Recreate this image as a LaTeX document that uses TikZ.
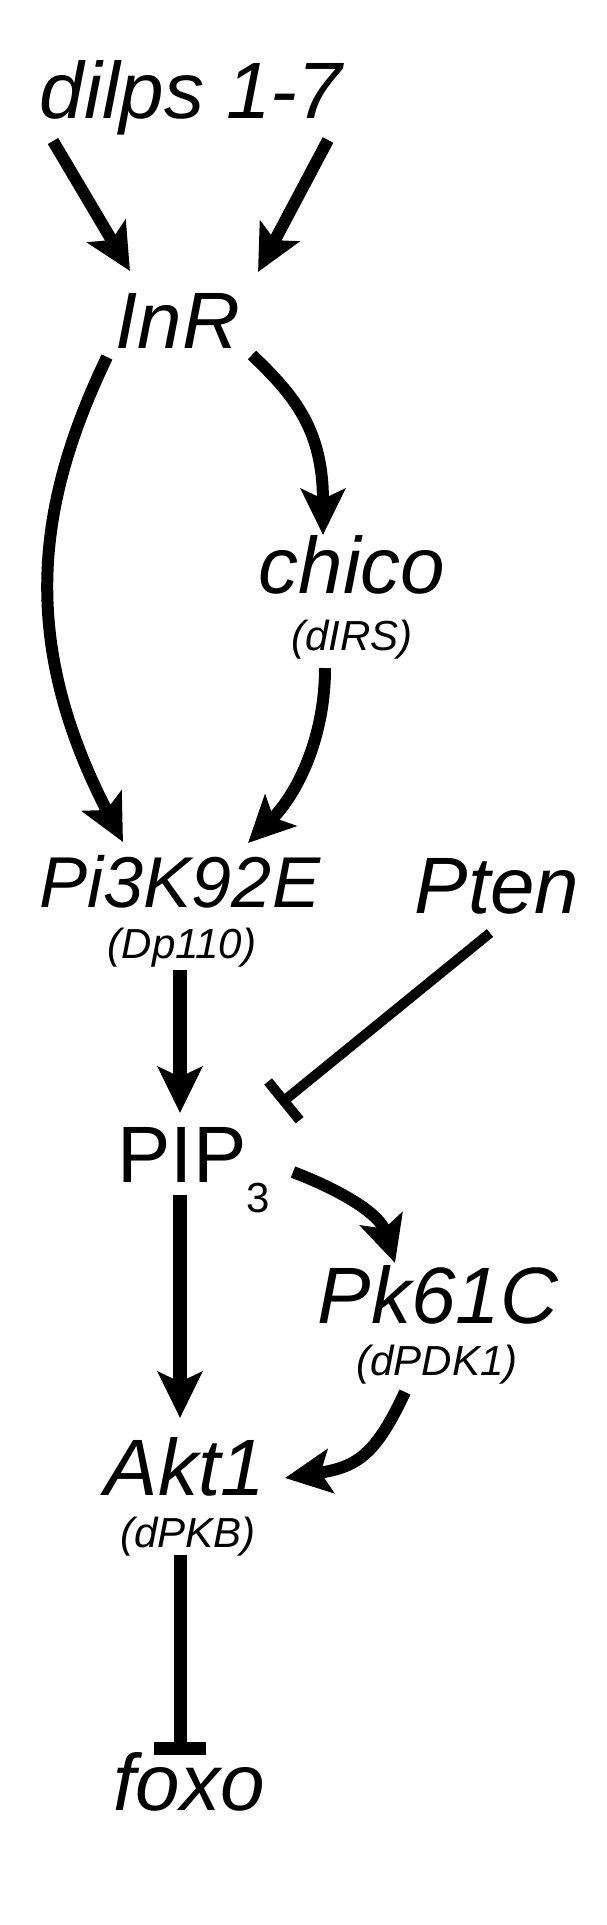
\documentclass[tikz,border=0pt]{standalone}
\usepackage{fontspec}
\setmainfont{Liberation Sans}
\usetikzlibrary{arrows.meta,calc}
\begin{document}
\begin{tikzpicture}[x=1pt,y=-1pt,
  lbl/.style={inner sep=0pt, anchor=base, font=\fontsize{80}{96}\selectfont\itshape},
  sub/.style={inner sep=0pt, anchor=base, font=\fontsize{42}{50}\selectfont\itshape},
  act/.style={line width=12pt, -{Stealth[length=46pt,width=44pt,inset=10pt]}},
  actv/.style={act, line width=14pt},
  inh/.style={line width=10pt, -{Bar[width=50pt]}},
]
\useasboundingbox (0,0) rectangle (607,1925);
% nodes
\node[lbl] (dilps) at (191,118) {dilps 1-7};
\node[lbl] (InR) at (178,348) {InR};
\node[lbl] (chico) at (352,593) {chico};
\node[sub] (dIRS) at (352,650) {(dIRS)};
\node[lbl, font=\fontsize{72}{86}\selectfont\itshape] (Pi3K) at (180,907) {Pi3K92E};
\node[sub] (Dp110) at (182,958) {(Dp110)};
\node[lbl] (Pten) at (497,913) {Pten};
\node[lbl, font=\fontsize{80}{96}\selectfont] (PIP) at (182,1182) {PIP\rlap{\raisebox{-30pt}{\fontsize{42}{50}\selectfont 3}}};
\node[lbl] (Pk61C) at (438,1323) {Pk61C};
\node[sub] (dPDK1) at (437,1375) {(dPDK1)};
\node[lbl] (Akt1) at (185,1495) {Akt1};
\node[sub] (dPKB) at (188,1547) {(dPKB)};
\node[lbl] (foxo) at (189,1810) {foxo};
% connectors
\draw[act] ([shift={(-138,23)}]dilps.base) -- ([shift={(-48,-77)}]InR.base);
\draw[act] ([shift={(137,22)}]dilps.base) -- ([shift={(80,-76)}]InR.base);
\draw[act] ([shift={(-71,9)}]InR.base) .. controls (38,501) and (17,637) .. ([shift={(-57,-65)}]Pi3K.base);
\draw[act] ([shift={(74,7)}]InR.base) .. controls (295,396) and (323,430) .. ([shift={(-29,-58)}]chico.base);
\draw[act] ([shift={(-27,75)}]chico.base) .. controls (325,738) and (297,794) .. ([shift={(68,-64)}]Pi3K.base);
\draw[actv] ([shift={(0,63)}]Pi3K.base) -- ([shift={(-2,-69)}]PIP.base);
\draw[inh] ([shift={(-7,20)}]Pten.base) -- ([shift={(98,-78)}]PIP.base);
\draw[actv] ([shift={(-2,13)}]PIP.base) -- ([shift={(-5,-77)}]Akt1.base);
\draw[act] ([shift={(111,-10)}]PIP.base) .. controls (345,1192) and (380,1215) .. ([shift={(-43,-60)}]Pk61C.base);
\draw[act] ([shift={(-33,69)}]Pk61C.base) .. controls (376,1454) and (358,1467) .. ([shift={(100,-17)}]Akt1.base);
\draw[inh, line width=13pt, -{Bar[width=52pt]}] ([shift={(-5,60)}]Akt1.base) -- ([shift={(-9,-55)}]foxo.base);
\end{tikzpicture}
\end{document}
